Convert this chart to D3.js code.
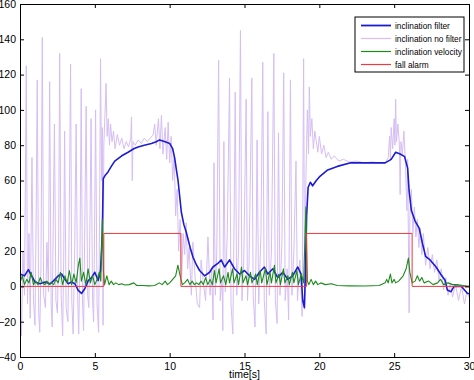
<!DOCTYPE html>
<html>
<head>
<meta charset="utf-8">
<script src="https://cdn.jsdelivr.net/npm/d3@7"></script>
<style>
  body { margin: 0; background: #fff; }
  svg text { font-family: "Liberation Sans", Arial, Helvetica, sans-serif; }
</style>
</head>
<body>
<div id="chart"></div>
<script>
// tick labels
var xTicks = [0, 5, 10, 15, 20, 25, 30];
var yTicks = [-40, -20, 0, 20, 40, 60, 80, 100, 120, 140, 160];

// inclination filter (blue)
var filterT = [0, 0.3, 0.56, 0.78, 1.0, 1.33, 1.67, 2.0, 2.22, 2.56, 2.78, 3.0, 3.22, 3.44, 3.67, 3.89, 4.11, 4.33, 4.56, 4.78, 5.0, 5.22, 5.38, 5.5, 5.56, 5.7, 5.89, 6.1, 6.33, 6.8, 7.22, 7.6, 7.89, 8.3, 8.78, 9.1, 9.33, 9.7, 10.0, 10.2, 10.33, 10.45, 10.56, 10.78, 10.95, 11.1, 11.22, 11.4, 11.56, 11.8, 12.0, 12.33, 12.67, 12.89, 13.22, 13.44, 13.67, 14.0, 14.33, 14.67, 15.0, 15.33, 15.67, 16.0, 16.33, 16.56, 16.89, 17.22, 17.56, 17.89, 18.22, 18.56, 18.78, 18.89, 19.0, 19.08, 19.15, 19.25, 19.4, 19.55, 19.8, 20.0, 20.56, 21.2, 22.1, 23.4, 24.4, 24.8, 25.1, 25.4, 25.7, 25.9, 26.0, 26.15, 26.4, 26.67, 26.9, 27.1, 27.4, 27.8, 28.1, 28.4, 28.55, 28.8, 29.0, 29.5, 29.9, 30];
var filterV = [7, 6, 9.5, 6, 2.5, 1.5, 2.5, 1.5, 3, 6, 7, 4, 1.5, 2.5, 1.5, -2.3, -4, -1.3, 3.3, 5, 8, 3.3, 9, 30, 61, 63, 65, 68, 71, 74, 76, 78, 79, 80, 81, 82, 83, 82, 81, 78, 73, 66, 60, 42, 35, 31, 27, 21, 16.5, 12, 9, 6, 8, 11, 13, 15, 11, 15, 10, 7, 9, 6, 4, 8, 11, 7, 10, 5, 8, 4, 6, 11, 7, -8, -12, 10, 40, 56, 59, 57, 60, 62, 66, 68, 70, 70, 70, 72, 76, 75, 73.5, 67, 54, 43, 37, 33, 24, 17, 15, 11, 7, 3.5, -2, -3, 0, 0, -4, -4];

// inclination no filter (lavender)
var rawT = [0, 0.1, 0.2, 0.3, 0.42, 0.5, 0.6, 0.68, 0.8, 0.9, 1.0, 1.08, 1.15, 1.25, 1.32, 1.4, 1.49, 1.58, 1.7, 1.8, 1.9, 1.98, 2.08, 2.15, 2.22, 2.3, 2.4, 2.5, 2.58, 2.65, 2.75, 2.85, 2.92, 2.98, 3.08, 3.2, 3.28, 3.38, 3.46, 3.55, 3.65, 3.75, 3.85, 3.92, 4.0, 4.09, 4.18, 4.25, 4.33, 4.42, 4.52, 4.6, 4.68, 4.75, 4.85, 4.92, 4.98, 5.05, 5.15, 5.25, 5.32, 5.38, 5.45, 5.5, 5.55, 5.6, 5.68, 5.75, 5.82, 5.9, 5.98, 6.05, 6.15, 6.25, 6.35, 6.5, 6.65, 6.8, 6.95, 7.1, 7.25, 7.4, 7.45, 7.5, 7.55, 7.7, 7.9, 8.1, 8.3, 8.5, 8.7, 8.9, 9.0, 9.1, 9.25, 9.35, 9.45, 9.55, 9.7, 9.8, 9.9, 10.0, 10.1, 10.2, 10.3, 10.4, 10.5, 10.6, 10.7, 10.8, 10.9, 11.0, 11.1, 11.2, 11.3, 11.45, 11.55, 11.7, 11.85, 12.0, 12.1, 12.25, 12.4, 12.56, 12.7, 12.8, 12.9, 12.96, 13.05, 13.15, 13.27, 13.38, 13.5, 13.55, 13.62, 13.72, 13.85, 14.0, 14.1, 14.22, 14.3, 14.38, 14.48, 14.6, 14.73, 14.83, 14.95, 15.11, 15.2, 15.3, 15.49, 15.58, 15.7, 15.78, 15.84, 15.95, 16.1, 16.22, 16.32, 16.45, 16.5, 16.56, 16.66, 16.8, 16.96, 17.06, 17.18, 17.22, 17.27, 17.37, 17.5, 17.62, 17.72, 17.85, 17.95, 18.07, 18.17, 18.3, 18.44, 18.54, 18.7, 18.85, 18.95, 19.02, 19.1, 19.2, 19.28, 19.33, 19.4, 19.5, 19.6, 19.7, 19.8, 19.9, 20.0, 20.15, 20.3, 20.45, 20.6, 20.8, 21.0, 21.3, 21.6, 22.0, 22.5, 23.0, 23.5, 24.0, 24.4, 24.6, 24.7, 24.75, 24.8, 24.9, 25.0, 25.05, 25.1, 25.15, 25.25, 25.35, 25.4, 25.45, 25.55, 25.65, 25.75, 25.85, 25.9, 26.0, 26.05, 26.15, 26.25, 26.35, 26.45, 26.55, 26.65, 26.75, 26.85, 26.95, 27.1, 27.25, 27.4, 27.55, 27.7, 27.85, 28.0, 28.15, 28.3, 28.45, 28.6, 28.75, 28.9, 29.1, 29.3, 29.5, 29.7, 29.85, 30];
var rawV = [10, -28, 20, -5, 125, -10, 30, -18, 73, -8, -22, 40, 117, -15, -26, 10, 141, -5, -12, 25, -3, 116, -10, -23, 35, 92, -8, -15, 20, 132, -5, -28, 15, 88, -12, -20, 30, 126, -8, -27, 20, 92, -5, -27, 10, 112, -10, -25, 35, 102, -5, -12, 40, 95, -8, -20, 30, 100, -10, -26, 40, 129, 60, 90, -22, 80, 98, 115, 85, 95, 80, 92, 82, 88, 78, 86, 80, 84, 78, 82, 79, 84, 96, 60, 82, 80, 83, 81, 84, 82, 84, 86, 92, 80, 95, 78, 97, 75, 90, 72, 93, 70, 85, 60, 74, 40, 55, 20, 38, 5, 30, 18, 36, 10, 22, -5, 25, 5, -10, -12, 15, 2, -8, 28, -5, 10, -19, 70, -5, 20, 128, -8, 5, -25, 82, -3, 30, 118, -10, -27, 35, 110, -5, 20, 145, -8, 15, 106, -8, 12, 118, -5, -23, 25, 83, -10, 30, 127, -8, -27, 40, 99, -5, 20, 132, -8, -21, 30, 87, -5, 25, 121, -8, 10, -19, 117, -5, 20, 71, -8, 15, -17, 129, -13, 60, 100, 75, 113, 85, 95, 78, 88, 82, 76, 85, 75, 80, 73, 76, 72, 74, 71, 72, 70.5, 71, 70, 70.5, 70, 70, 73, 85, 72, 90, 78, 95, 80, 106, 82, 92, 80, 52, 82, 75, 88, 70, 43, 72, -15, 40, 55, 30, 45, 28, 38, 22, 33, 18, 30, 12, 22, 10, 18, 8, 15, 3, 10, -2, 5, -5, 2, -6, 1, -8, 0, -10, -3, -6];

// inclination velocity (green)
var velT = [0, 0.15, 0.3, 0.45, 0.6, 0.75, 0.9, 1.05, 1.2, 1.35, 1.5, 1.65, 1.8, 1.95, 2.1, 2.25, 2.4, 2.55, 2.7, 2.85, 3.0, 3.15, 3.3, 3.45, 3.6, 3.75, 3.9, 4.0, 4.1, 4.25, 4.4, 4.55, 4.7, 4.85, 5.0, 5.15, 5.3, 5.4, 5.5, 5.58, 5.65, 5.8, 5.95, 6.1, 6.25, 6.4, 6.6, 6.8, 7.0, 7.3, 7.6, 7.8, 8.2, 8.6, 9.0, 9.3, 9.5, 9.7, 9.85, 10.0, 10.2, 10.4, 10.55, 10.7, 10.85, 11.0, 11.2, 11.35, 11.5, 11.65, 11.8, 11.95, 12.1, 12.25, 12.4, 12.55, 12.7, 12.85, 13.0, 13.1, 13.3, 13.4, 13.6, 13.75, 13.9, 14.0, 14.2, 14.3, 14.5, 14.6, 14.8, 14.9, 15.1, 15.2, 15.4, 15.5, 15.75, 15.85, 16.05, 16.15, 16.4, 16.5, 16.7, 16.8, 17.0, 17.1, 17.3, 17.4, 17.6, 17.7, 17.9, 18.0, 18.2, 18.3, 18.5, 18.6, 18.8, 18.95, 19.1, 19.2, 19.3, 19.45, 19.6, 19.75, 19.9, 20.1, 20.4, 20.8, 21.2, 22, 23, 24, 24.4, 24.5, 24.6, 24.75, 24.85, 25.0, 25.1, 25.3, 25.6, 25.8, 25.95, 26.05, 26.2, 26.4, 26.55, 26.7, 26.85, 27.0, 27.3, 27.6, 27.9, 28.1, 28.3, 28.6, 28.9, 29.2, 29.6, 30];
var velV = [2, 6, 1, 4, 2, 8, 1, 3, 1, 5, 2, 1, 3, 1, 2, 1, 4, 2, 8, 1, 6, 2, 9, 1, 7, 2, 12, 16, 3, 8, 1, 10, 2, 6, 1, 4, 8, 3, 38, 8, 1, 6, 1, 3, 1, 2, 1, 1.5, 0.8, 1, 2, 0.5, 0.5, 0.3, 0.5, 2, 1, 3, 1, 2, 4, 6, 12, 6, 1, 2, 4, 1, 3, 1, 2, 1, 3, 1, 5, 1, 4, 1, 9, 2, 10, 2, 6, 1, 8, 2, 10, 2, 7, 1, 11, 2, 6, 1, 8, 2, 7, 1, 9, 2, 10, 1, 8, 2, 12, 2, 7, 1, 10, 2, 6, 1, 8, 2, 9, 1, 7, 2, 45, 3, 1, 4, 1, 3, 1, 2, 1, 1.5, 0.5, 0.3, 0.2, 0.5, 2, 4, 2, 7, 2, 4, 2, 3, 6, 10, 16, 8, 2, 3, 6, 3, 5, 2, 3, 1, 2, 4, 1, 2, 1, 1, 0.5, 0];

// fall alarm (red)
var alarmT = [0, 5.6, 5.6, 10.75, 10.75, 19.15, 19.15, 26.2, 26.2, 30];
var alarmV = [0, 0, 30, 30, 0, 0, 30, 30, 0, 0];

var legendNames = ['inclination filter', 'inclination no filter', 'inclination velocity', 'fall alarm'];
var lineColors = ['#1c1cd2', '#d6bef4', '#1b8c1b', '#ee3a3a'];
var lineWidths = [1.6, 1, 1.1, 1];

var width = 474, height = 380;
var svg = d3.select('#chart').append('svg')
    .attr('width', width)
    .attr('height', height);

var x = d3.scaleLinear().domain([0, 30]).range([20, 469]);
var y = d3.scaleLinear().domain([-40, 160]).range([357, 4]);

// clip the lines inside the box
svg.append('clipPath').attr('id', 'plotclip')
  .append('rect')
    .attr('x', x(0)).attr('y', y(160))
    .attr('width', x(30) - x(0)).attr('height', y(-40) - y(160));

/**
 * draw one series as a polyline.
 */
function drawSeries(ts, vs, color, w) {
    var pts = ts.map(function(t, i) { return [t, vs[i]]; });
    var line = d3.line()
        .x(function(d) { return x(d[0]); })
        .y(function(d) { return y(d[1]); });
    svg.append('path')
        .attr('clip-path', 'url(#plotclip)')
        .attr('d', line(pts))
        .attr('fill', 'none')
        .attr('stroke', color)
        .attr('stroke-width', w)
        .attr('stroke-linejoin', 'round');
}

drawSeries(rawT, rawV, lineColors[1], lineWidths[1]);
drawSeries(filterT, filterV, lineColors[0], lineWidths[0]);
drawSeries(velT, velV, lineColors[2], lineWidths[2]);
drawSeries(alarmT, alarmV, lineColors[3], lineWidths[3]);

// axes, ticks inside on all four sides like matlab
var axes = [
    {ax: d3.axisBottom(x).tickValues(xTicks).tickSizeInner(-4).tickSizeOuter(0).tickPadding(6), pos: 'translate(0,' + y(-40) + ')'},
    {ax: d3.axisTop(x).tickValues(xTicks).tickSizeInner(-4).tickSizeOuter(0).tickFormat(''), pos: 'translate(0,' + y(160) + ')'},
    {ax: d3.axisLeft(y).tickValues(yTicks).tickSizeInner(-4).tickSizeOuter(0).tickPadding(4), pos: 'translate(' + x(0) + ',0)'},
    {ax: d3.axisRight(y).tickValues(yTicks).tickSizeInner(-4).tickSizeOuter(0).tickFormat(''), pos: 'translate(' + x(30) + ',0)'}
];
axes.forEach(function(a) {
    var g = svg.append('g').attr('transform', a.pos).call(a.ax);
    g.select('.domain').attr('stroke', '#000').attr('stroke-width', 1);
    g.selectAll('.tick line').attr('stroke', '#000');
    g.selectAll('.tick text').attr('fill', '#000').style('font-size', '10.5px');
});

// x label
svg.append('text')
    .attr('x', (x(0) + x(30)) / 2)
    .attr('y', 378)
    .attr('text-anchor', 'middle')
    .style('font-size', '10.5px')
    .text('time[s]');

// legend
var leg = svg.append('g').attr('transform', 'translate(355,17)');
leg.append('rect')
    .attr('width', 109).attr('height', 55)
    .attr('fill', '#fff').attr('stroke', '#000').attr('stroke-width', 1);
legendNames.forEach(function(name, i) {
    var ly = 8.5 + i * 13;
    leg.append('line')
        .attr('x1', 6).attr('x2', 36).attr('y1', ly).attr('y2', ly)
        .attr('stroke', lineColors[i])
        .attr('stroke-width', i === 0 ? 1.8 : 1.2);
    leg.append('text')
        .attr('x', 40).attr('y', ly + 3)
        .style('font-size', '8.3px')
        .text(name);
});
</script>
</body>
</html>
